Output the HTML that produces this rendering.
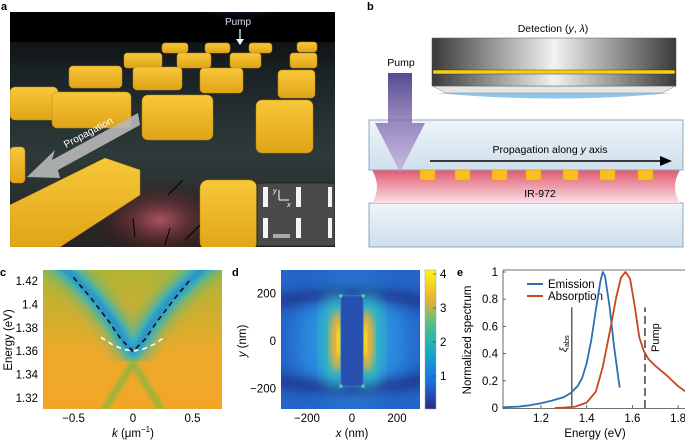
<!DOCTYPE html>
<html><head><meta charset="utf-8"><style>
html,body{margin:0;padding:0;background:#fff;}
body{width:685px;height:440px;overflow:hidden;position:relative;font-family:"Liberation Sans",sans-serif;}
svg{position:absolute;left:0;top:0;}
text{font-family:"Liberation Sans",sans-serif;}
</style></head><body>
<svg id="fig" width="685" height="440" viewBox="0 0 685 440">
<defs>
 <linearGradient id="goldTop" x1="0" y1="0" x2="0" y2="1"><stop offset="0" stop-color="#f7c83a"/><stop offset="1" stop-color="#e0a418"/></linearGradient>
 <radialGradient id="pumpGlow" cx="0.5" cy="0" r="0.6"><stop offset="0" stop-color="#b070e0"/><stop offset="0.6" stop-color="#6a3a9a" stop-opacity="0.6"/><stop offset="1" stop-color="#000" stop-opacity="0"/></radialGradient>
 <radialGradient id="redGlow" cx="0.5" cy="0.5" r="0.5"><stop offset="0" stop-color="#d06070" stop-opacity="0.8"/><stop offset="1" stop-color="#400" stop-opacity="0"/></radialGradient>
 <linearGradient id="floor" x1="0" y1="0" x2="0" y2="1"><stop offset="0" stop-color="#050505"/><stop offset="0.25" stop-color="#1a2224"/><stop offset="0.6" stop-color="#2e3a3a"/><stop offset="1" stop-color="#262222"/></linearGradient>
 <linearGradient id="lensG" x1="0" y1="0" x2="1" y2="0"><stop offset="0" stop-color="#3a3a3a"/><stop offset="0.5" stop-color="#f2f2f2"/><stop offset="1" stop-color="#3a3a3a"/></linearGradient>
 <linearGradient id="pumpArrow" x1="0" y1="0" x2="0" y2="1"><stop offset="0" stop-color="#3a2a80"/><stop offset="1" stop-color="#c0a8d8" stop-opacity="0.8"/></linearGradient>
 <linearGradient id="glass" x1="0" y1="0" x2="0" y2="1"><stop offset="0" stop-color="#eef4fa"/><stop offset="1" stop-color="#cfdfec"/></linearGradient>
 <linearGradient id="redLayer" x1="0" y1="0" x2="0" y2="1"><stop offset="0" stop-color="#e05a70"/><stop offset="1" stop-color="#fbe0e6"/></linearGradient>
 <linearGradient id="cBg" x1="0" y1="0" x2="0" y2="1"><stop offset="0" stop-color="#b0b432"/><stop offset="0.4" stop-color="#d8ad2e"/><stop offset="0.6" stop-color="#eea92a"/><stop offset="1" stop-color="#f2a628"/></linearGradient>
 <linearGradient id="cbar" x1="0" y1="1" x2="0" y2="0"><stop offset="0" stop-color="#2b2a86"/><stop offset="0.2" stop-color="#1c6ee0"/><stop offset="0.4" stop-color="#14a8c8"/><stop offset="0.6" stop-color="#4cc08a"/><stop offset="0.8" stop-color="#f2b02e"/><stop offset="1" stop-color="#f8f818"/></linearGradient>
 <filter id="blur4"><feGaussianBlur stdDeviation="4"/></filter>
 <filter id="blur2"><feGaussianBlur stdDeviation="2"/></filter>
 <filter id="blur7"><feGaussianBlur stdDeviation="7"/></filter>
 <filter id="blur10"><feGaussianBlur stdDeviation="10"/></filter>
 <filter id="blurBand" filterUnits="userSpaceOnUse" x="250" y="250" width="200" height="180"><feGaussianBlur stdDeviation="6"/></filter>
 <clipPath id="clipA"><rect x="10" y="12" width="325" height="235"/></clipPath>
 <clipPath id="clipC"><rect x="43" y="270" width="179" height="139"/></clipPath>
 <clipPath id="clipD"><rect x="281" y="270" width="139" height="139"/></clipPath>
 <clipPath id="clipE"><rect x="503" y="262" width="182" height="147"/></clipPath>
</defs>

<!-- Panel a -->
<text x="1" y="10" font-size="11" font-weight="bold">a</text>
<g clip-path="url(#clipA)">
 <rect x="10" y="12" width="325" height="235" fill="url(#floor)"/>
 <rect x="10" y="12" width="325" height="30" fill="#000"/>
 <ellipse cx="240" cy="15" rx="75" ry="35" fill="url(#pumpGlow)"/>
 <ellipse cx="160" cy="220" rx="70" ry="40" fill="url(#redGlow)"/>
 <g fill="url(#goldTop)" stroke="#c08810" stroke-width="0.5">
  <rect x="162" y="43" width="26" height="10" rx="3"/><rect x="205" y="43" width="25" height="10" rx="3"/>
  <rect x="249" y="43" width="23" height="10" rx="3"/><rect x="297" y="42" width="20" height="10" rx="3"/>
  <rect x="124" y="53" width="38" height="15" rx="3"/><rect x="177" y="53" width="34" height="15" rx="3"/>
  <rect x="230" y="53" width="31" height="15" rx="3"/><rect x="290" y="53" width="27" height="15" rx="3"/>
  <rect x="69" y="66" width="53" height="22" rx="4"/><rect x="133" y="67" width="49" height="23" rx="4"/>
  <rect x="200" y="68" width="43" height="25" rx="4"/><rect x="278" y="70" width="37" height="28" rx="4"/>
  <rect x="10" y="87" width="48" height="33" rx="5"/><rect x="52" y="92" width="79" height="36" rx="5"/>
  <rect x="142" y="95" width="71" height="45" rx="6"/><rect x="256" y="100" width="57" height="53" rx="6"/>
  <rect x="10" y="147" width="15" height="36" rx="4"/>
  <polygon points="10,205 105,158 140,170 140,195 60,247 10,247"/>
  <rect x="200" y="180" width="57" height="70" rx="8"/>
 </g>
 <polygon points="27,177 55,150 52,160 138,113 140,125 58,170 60,178" fill="#b8b8b8" opacity="0.9"/>
 <text x="0" y="0" font-size="10" fill="#fff" transform="translate(66,148) rotate(-28)">Propagation</text>
 <text x="238" y="25" font-size="10" fill="#e8d8f8" text-anchor="middle">Pump</text>
 <line x1="240" y1="29" x2="240" y2="42" stroke="#fff" stroke-width="1.2"/>
 <polygon points="236,39 244,39 240,45" fill="#fff"/>
 <g stroke="#000" stroke-width="1">
  <line x1="135" y1="237" x2="133" y2="218"/><line x1="165" y1="245" x2="170" y2="228"/>
  <line x1="185" y1="240" x2="200" y2="225"/><line x1="168" y1="195" x2="183" y2="180"/>
 </g>
 <g>
  <rect x="257" y="183" width="78" height="63" fill="#4a4a4a" stroke="#222"/>
  <g fill="#f4f4f4"><rect x="263" y="187" width="5" height="20"/><rect x="296" y="187" width="5" height="20"/><rect x="328" y="187" width="4" height="20"/>
  <rect x="263" y="218" width="5" height="20"/><rect x="296" y="218" width="5" height="20"/><rect x="328" y="218" width="4" height="20"/></g>
  <rect x="273" y="234" width="17" height="4" fill="#aaa"/>
  <path d="M279,200 L279,190 M279,200 L289,200" stroke="#fff" stroke-width="1"/>
  <text x="273" y="193" font-size="7" fill="#fff" font-style="italic">y</text>
  <text x="287" y="207" font-size="7" fill="#fff" font-style="italic">x</text>
 </g>
</g>

<!-- Panel b -->
<g>
 <text x="367" y="10" font-size="11" font-weight="bold">b</text>
 <text x="553" y="32" font-size="10.5" text-anchor="middle">Detection (<tspan font-style="italic">y</tspan>, <tspan font-style="italic">λ</tspan>)</text>
 <path d="M436,93 Q555,104 672,93 Z" fill="#8cc8ec"/>
 <polygon points="432,86 676,86 662,93 446,93" fill="#e6e6e6" stroke="#888" stroke-width="0.5"/>
 <rect x="432" y="38" width="244" height="48" fill="url(#lensG)" stroke="#555" stroke-width="0.5"/>
 <rect x="433" y="70" width="242" height="4" fill="#f4d010" stroke="#222" stroke-width="0.4"/>
 <text x="401" y="66" font-size="10.5" text-anchor="middle">Pump</text>
 <rect x="369" y="203" width="314" height="44" fill="url(#glass)" stroke="#8aa8c0"/>
 <path d="M372,170 L680,170 Q670,187 680,203 L372,203 Q382,187 372,170 Z" fill="url(#redLayer)"/>
 <rect x="369" y="120" width="314" height="50" fill="url(#glass)" stroke="#8aa8c0"/>
 <g fill="#f6c020" stroke="#e8a010" stroke-width="0.5">
  <rect x="420" y="170" width="15" height="10"/><rect x="455" y="170" width="15" height="10"/><rect x="492" y="170" width="15" height="10"/>
  <rect x="526" y="170" width="15" height="10"/><rect x="563" y="170" width="15" height="10"/><rect x="600" y="170" width="15" height="10"/><rect x="638" y="170" width="15" height="10"/>
 </g>
 <text x="540" y="197" font-size="10.5" text-anchor="middle">IR-972</text>
 <polygon points="388,73 412,73 412,123 425,123 400,172 375,123 388,123" fill="url(#pumpArrow)" opacity="0.85"/>
 <line x1="430" y1="161" x2="662" y2="161" stroke="#000" stroke-width="1.6"/>
 <polygon points="660,156 672,161 660,166" fill="#000"/>
 <text x="550" y="153" font-size="10.5" text-anchor="middle">Propagation along <tspan font-style="italic">y</tspan> axis</text>
</g>

<!-- Panel c -->
<text x="0" y="276" font-size="11" font-weight="bold">c</text>
<g id="panelC">
 <g clip-path="url(#clipC)" id="cHeat"><rect x="43" y="270" width="179" height="139" fill="url(#cBg)"/></g>
 <g id="cMarks"></g>
 <g id="cAxes"></g>
</g>

<!-- Panel d -->
<text x="232" y="276" font-size="11" font-weight="bold">d</text>
<g id="panelD">
 <g clip-path="url(#clipD)" id="dHeat"></g>
 <rect x="425" y="270" width="11" height="139" fill="url(#cbar)" stroke="#8ab" stroke-width="0.5"/>
 <g id="dAxes"></g>
</g>

<!-- Panel e -->
<text x="457" y="276" font-size="11" font-weight="bold">e</text>
<g id="panelE"><g id="eAxes"></g><g id="eMarks" clip-path="url(#clipE)"></g></g>
</svg>
<script>
// ---------- Panel c data ----------
const cKTicks = [-0.5, 0, 0.5];
const cETicks = [1.32, 1.34, 1.36, 1.38, 1.4, 1.42];
const upperBandK = [-0.75, -0.5, -0.3, -0.15, -0.05, 0, 0.05, 0.15, 0.3, 0.5, 0.75];
const upperBandE = [1.445, 1.424, 1.403, 1.383, 1.365, 1.360, 1.365, 1.383, 1.403, 1.423, 1.445];
const lowerBandK = [-0.3, -0.15, 0, 0.15, 0.3];
const lowerBandE = [1.300, 1.325, 1.350, 1.325, 1.300];
const blackFitK = [-0.5, -0.35, -0.2, -0.1, 0, 0.1, 0.2, 0.35, 0.48];
const blackFitE = [1.423, 1.405, 1.385, 1.370, 1.360, 1.370, 1.385, 1.405, 1.421];
const whiteFitK = [-0.27, -0.18, -0.09, 0, 0.09, 0.18, 0.25];
const whiteFitE = [1.372, 1.366, 1.362, 1.360, 1.362, 1.366, 1.371];
// ---------- Panel d data ----------
const dXTicks = [-200, 0, 200];
const dYTicks = [-200, 0, 200];
const dCbTicks = [1, 2, 3, 4];
const rodX = [-50, 50];
const rodY = [-190, 190];
// ---------- Panel e data ----------
const eXTicks = [1.2, 1.4, 1.6, 1.8];
const eYTicks = [0, 0.2, 0.4, 0.6, 0.8, 1];
const emissionE = [1.03,1.1,1.15,1.2,1.25,1.3,1.33,1.36,1.38,1.4,1.42,1.44,1.46,1.47,1.48,1.5,1.52,1.54,1.545];
const emissionV = [0.005,0.01,0.02,0.035,0.055,0.08,0.11,0.16,0.22,0.33,0.5,0.72,0.93,1.0,0.97,0.75,0.45,0.2,0.15];
const absorptionE = [1.26,1.3,1.35,1.4,1.44,1.47,1.5,1.53,1.55,1.57,1.59,1.61,1.63,1.65,1.67,1.7,1.75,1.8,1.85];
const absorptionV = [0,0.003,0.01,0.04,0.12,0.3,0.55,0.82,0.96,1.0,0.95,0.75,0.52,0.42,0.36,0.31,0.24,0.16,0.1];
const xiAbsE = [1.335];
const pumpE = [1.655];
const markerTop = [0.74];

const NS = 'http://www.w3.org/2000/svg';
function mk(tag, attrs, parent){const e=document.createElementNS(NS,tag);for(const k in attrs)e.setAttribute(k,attrs[k]);parent.appendChild(e);return e;}
function txt(s,attrs,parent){const t=mk('text',attrs,parent);t.textContent=s;return t;}

const cx = k => 133 + 119*k;
const cy = E => 281 + (1.42 - E)*1170;
const dx = v => 352 + v*0.225;
const dy = v => 341 - v*0.2375;
const dcb = v => 410 - v*34;
const ex = E => 541 + (E - 1.2)*228.5;
const ey = v => 408 - v*136;

function pathOf(xs, ys, fx, fy){return xs.map((x,i)=>(i?'L':'M')+fx(x).toFixed(1)+','+fy(ys[i]).toFixed(1)).join(' ');}

// ---- Panel c ----
const cHeat = document.getElementById('cHeat');
const band0 = mk('path',{d:pathOf(upperBandK,upperBandE,cx,cy),fill:'none',stroke:'#60b880','stroke-width':30,filter:'url(#blur7)',opacity:0.7},cHeat);


const band1 = mk('path',{d:pathOf(upperBandK,upperBandE,cx,cy),fill:'none',stroke:'#30b0c8','stroke-width':16,filter:'url(#blur4)'},cHeat);


const band1b = mk('path',{d:pathOf(upperBandK,upperBandE,cx,cy),fill:'none',stroke:'#2a90c8','stroke-width':6,filter:'url(#blur2)'},cHeat);


const band2 = mk('path',{d:pathOf(lowerBandK,lowerBandE,cx,cy),fill:'none',stroke:'#80b840','stroke-width':6,filter:'url(#blur2)',opacity:0.85},cHeat);


const cMarks = document.getElementById('cMarks');
const bf = mk('path',{d:pathOf(blackFitK,blackFitE,cx,cy),fill:'none',stroke:'#111','stroke-width':1.6,'stroke-dasharray':'5,4'},cMarks);


const wf = mk('path',{d:pathOf(whiteFitK,whiteFitE,cx,cy),fill:'none',stroke:'#fff','stroke-width':1.6,'stroke-dasharray':'5,4'},cMarks);


const cAx = document.getElementById('cAxes');
cKTicks.forEach(k=>{const t=txt(k===0?'0':(k<0?'−'+(-k):String(k)),{x:cx(k),y:422,'font-size':11.5,'text-anchor':'middle'},cAx);
 
 });
cETicks.forEach(E=>{const t=txt(String(E),{x:38,y:cy(E)+4,'font-size':11.5,'text-anchor':'end'},cAx);
 
 });
const cxl = txt('',{x:133,y:437,'font-size':11.5,'text-anchor':'middle'},cAx);
cxl.innerHTML='<tspan font-style="italic">k</tspan> (μm<tspan font-size="8" dy="-5">−1</tspan><tspan dy="5">)</tspan>';


const cyl = txt('Energy (eV)',{x:0,y:0,'font-size':11.5,'text-anchor':'middle',transform:'translate(12,340) rotate(-90)'},cAx);



// ---- Panel d ----
const dHeat = document.getElementById('dHeat');
mk('rect',{x:281,y:270,width:139,height:139,fill:'#2466c8'},dHeat);
mk('ellipse',{cx:dx(0),cy:dy(0),rx:55,ry:60,fill:'#2a8ee0',filter:'url(#blur10)'},dHeat);
[200,-200].forEach(v=>{
 const s = v>0?1:-1;
 const b=mk('path',{d:'M270,'+(dy(v)+s*10)+' Q'+dx(0)+','+(dy(v)-s*10)+' 430,'+(dy(v)+s*10),fill:'none',stroke:'#1e2a80','stroke-width':10,filter:'url(#blurBand)'},dHeat);
 
 });
[-1,1].forEach(s=>{
 const xr = dx(s*rodX[1]);
 mk('ellipse',{cx:xr+s*5,cy:dy(0),rx:16,ry:46,fill:'#30b8c0',filter:'url(#blur7)'},dHeat);
 mk('ellipse',{cx:xr+s*3,cy:dy(0),rx:8,ry:30,fill:'#f2b030',filter:'url(#blur4)'},dHeat);
 mk('ellipse',{cx:xr+s*1,cy:dy(0),rx:3,ry:16,fill:'#f8e020',filter:'url(#blur2)'},dHeat);
});
const rod = mk('rect',{x:dx(rodX[0]),y:dy(rodY[1]),width:dx(rodX[1])-dx(rodX[0]),height:dy(rodY[0])-dy(rodY[1]),fill:'#2850b0',stroke:'#3a8ac8','stroke-width':0.8,rx:1.5},dHeat);


[[rodX[0],rodY[0]],[rodX[0],rodY[1]],[rodX[1],rodY[0]],[rodX[1],rodY[1]]].forEach(p=>{
 const c=mk('circle',{cx:dx(p[0]),cy:dy(p[1]),r:1.8,fill:'#50c8a0'},dHeat);
 
 });
const dAx = document.getElementById('dAxes');
dXTicks.forEach(v=>{const t=txt(v<0?'−'+(-v):String(v),{x:dx(v),y:422,'font-size':11.5,'text-anchor':'middle'},dAx);
 
 });
dYTicks.forEach(v=>{const t=txt(v<0?'−'+(-v):String(v),{x:276,y:dy(v)+4,'font-size':11.5,'text-anchor':'end'},dAx);
 
 });
dCbTicks.forEach(v=>{mk('line',{x1:433,x2:436,y1:dcb(v),y2:dcb(v),stroke:'#333','stroke-width':0.6},dAx);
 const t=txt(String(v),{x:440,y:dcb(v)+4,'font-size':11.5},dAx);
 
 });
const dxl = txt('',{x:352,y:437,'font-size':11.5,'text-anchor':'middle'},dAx);
dxl.innerHTML='<tspan font-style="italic">x</tspan> (nm)';


const dyl = txt('',{x:0,y:0,'font-size':11.5,'text-anchor':'middle',transform:'translate(246,341) rotate(-90)'},dAx);
dyl.innerHTML='<tspan font-style="italic">y</tspan> (nm)';



// ---- Panel e ----
const eAx = document.getElementById('eAxes');
mk('path',{d:'M503,270 L503,408.5 L685,408.5 M503,270 L685,270',fill:'none',stroke:'#444','stroke-width':0.8},eAx);
eXTicks.forEach(v=>{mk('line',{x1:ex(v),x2:ex(v),y1:408,y2:405,stroke:'#444','stroke-width':0.8},eAx);
 const t=txt(String(v),{x:ex(v),y:422,'font-size':11.5,'text-anchor':'middle'},eAx);
 
 });
eYTicks.forEach(v=>{mk('line',{x1:503,x2:506,y1:ey(v),y2:ey(v),stroke:'#444','stroke-width':0.8},eAx);
 const t=txt(String(v),{x:498,y:ey(v)+4,'font-size':11.5,'text-anchor':'end'},eAx);
 
 });
const exl = txt('Energy (eV)',{x:595,y:437,'font-size':11.5,'text-anchor':'middle'},eAx);


const eyl = txt('Normalized spectrum',{x:0,y:0,'font-size':11.5,'text-anchor':'middle',transform:'translate(471,340) rotate(-90)'},eAx);


const eM = document.getElementById('eMarks');
const xiL = mk('line',{x1:ex(xiAbsE[0]),x2:ex(xiAbsE[0]),y1:ey(0),y2:ey(markerTop[0]),stroke:'#111','stroke-width':1},eM);


const pL = mk('line',{x1:ex(pumpE[0]),x2:ex(pumpE[0]),y1:ey(0),y2:ey(markerTop[0]),stroke:'#111','stroke-width':1.2,'stroke-dasharray':'8,4'},eM);


const em = mk('path',{d:pathOf(emissionE,emissionV,ex,ey),fill:'none',stroke:'#2c6fb0','stroke-width':1.8,'stroke-linejoin':'round'},eM);


const ab = mk('path',{d:pathOf(absorptionE,absorptionV,ex,ey),fill:'none',stroke:'#c8461e','stroke-width':1.8,'stroke-linejoin':'round'},eM);


const xiT = txt('',{x:0,y:0,'font-size':10.5,transform:'translate('+(ex(xiAbsE[0])-5)+',352) rotate(-90)'},eAx);
xiT.innerHTML='<tspan font-style="italic">ξ</tspan><tspan font-size="7.5" dy="2">abs</tspan>';


const pT = txt('Pump',{x:0,y:0,'font-size':11,transform:'translate('+(ex(pumpE[0])+14)+',352) rotate(-90)'},eAx);


const lg1 = mk('line',{x1:527,x2:543,y1:284,y2:284,stroke:'#2c6fb0','stroke-width':2},eAx);


const lt1 = txt('Emission',{x:548,y:288,'font-size':11.5},eAx);


const lg2 = mk('line',{x1:527,x2:543,y1:296,y2:296,stroke:'#c8461e','stroke-width':2},eAx);


const lt2 = txt('Absorption',{x:548,y:300,'font-size':11.5},eAx);


</script>
</body></html>
